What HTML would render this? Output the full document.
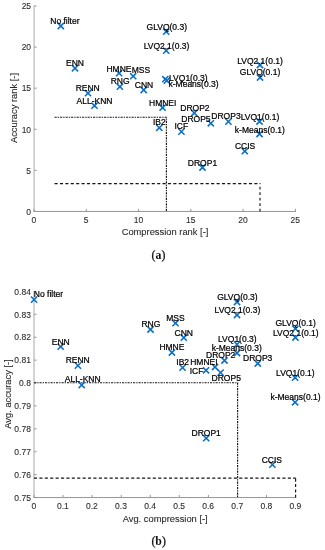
<!DOCTYPE html>
<html><head><meta charset="utf-8"><title>Figure</title>
<style>
html,body{margin:0;padding:0;background:#fff;}
svg{display:block;filter:blur(0.42px);}
text{font-family:"Liberation Sans",Arial,Helvetica,sans-serif;}
.t{font-size:8.5px;fill:#2c2c2c;stroke:#2c2c2c;stroke-width:0.1;}
.d{font-size:8.5px;fill:#000;stroke:#000;stroke-width:0.22;}
.l{font-size:9.35px;fill:#2a2a2a;stroke:#2a2a2a;stroke-width:0.1;}
.c{font-family:"Liberation Serif","Times New Roman",serif;font-size:11.8px;fill:#111;stroke:#111;stroke-width:0.25;}
.cb{font-weight:bold;stroke:none;}
.ax{stroke:#bcbcbc;stroke-width:1.3;fill:none;}
.axx{stroke:#959595;stroke-width:1;fill:none;}
.tk{stroke:#999;stroke-width:1;fill:none;}
.m{stroke:#0a6cc2;stroke-width:1.5;fill:none;stroke-linecap:butt;}
.dd{stroke:#151515;stroke-width:1.15;fill:none;stroke-dasharray:2.2 1.0 1.3 1.0;}
.da{stroke:#151515;stroke-width:1.15;fill:none;stroke-dasharray:3.1 2.3;}
</style></head>
<body>
<svg width="325" height="550" viewBox="0 0 325 550">
<rect x="0" y="0" width="325" height="550" fill="#fff"/>
<g id="plot-a">
<path class="ax" d="M34.10 5.50V211.95"/>
<path class="axx" d="M33.50 211.45H295.90"/>
<path class="tk" d="M34.10 211.45l2.60 0M34.10 211.45l0 -2.60M34.10 170.36l2.60 0M86.36 211.45l0 -2.60M34.10 129.27l2.60 0M138.62 211.45l0 -2.60M34.10 88.18l2.60 0M190.88 211.45l0 -2.60M34.10 47.09l2.60 0M243.14 211.45l0 -2.60M34.10 6.00l2.60 0M295.40 211.45l0 -2.60"/>
<text class="t" x="31.10" y="214.70" text-anchor="end">0</text>
<text class="t" x="33.90" y="222.70" text-anchor="middle">0</text>
<text class="t" x="31.10" y="173.61" text-anchor="end">5</text>
<text class="t" x="86.16" y="222.70" text-anchor="middle">5</text>
<text class="t" x="31.10" y="132.52" text-anchor="end">10</text>
<text class="t" x="138.42" y="222.70" text-anchor="middle">10</text>
<text class="t" x="31.10" y="91.43" text-anchor="end">15</text>
<text class="t" x="190.68" y="222.70" text-anchor="middle">15</text>
<text class="t" x="31.10" y="50.34" text-anchor="end">20</text>
<text class="t" x="242.94" y="222.70" text-anchor="middle">20</text>
<text class="t" x="31.10" y="9.25" text-anchor="end">25</text>
<text class="t" x="295.20" y="222.70" text-anchor="middle">25</text>
<text class="l" x="165.00" y="234.90" text-anchor="middle">Compression rank [-]</text>
<text class="l" text-anchor="middle" transform="translate(17.2 108) rotate(-90)">Accuracy rank [-]</text>
<path class="dd" d="M54.55 117.2H166.4V211.45"/>
<path class="da" d="M54.55 183.6H260.3"/>
<path class="da" style="stroke-dasharray:2.75 2.75" d="M260 211.5V183.4"/>
<path class="m" d="M57.70 22.90L63.90 29.10M57.70 29.10L63.90 22.90"/>
<path class="m" d="M71.90 65.15L78.10 71.35M71.90 71.35L78.10 65.15"/>
<path class="m" d="M116.00 70.10L122.20 76.30M116.00 76.30L122.20 70.10"/>
<path class="m" d="M130.10 73.10L136.30 79.30M130.10 79.30L136.30 73.10"/>
<path class="m" d="M116.80 83.60L123.00 89.80M116.80 89.80L123.00 83.60"/>
<path class="m" d="M84.90 90.10L91.10 96.30M84.90 96.30L91.10 90.10"/>
<path class="m" d="M91.40 102.60L97.60 108.80M91.40 108.80L97.60 102.60"/>
<path class="m" d="M140.60 86.90L146.80 93.10M140.60 93.10L146.80 86.90"/>
<path class="m" d="M163.10 28.60L169.30 34.80M163.10 34.80L169.30 28.60"/>
<path class="m" d="M163.10 47.60L169.30 53.80M163.10 53.80L169.30 47.60"/>
<path class="m" d="M162.20 76.10L168.40 82.30M162.20 82.30L168.40 76.10"/>
<path class="m" d="M163.80 77.50L170.00 83.70M163.80 83.70L170.00 77.50"/>
<path class="m" d="M159.50 104.60L165.70 110.80M159.50 110.80L165.70 104.60"/>
<path class="m" d="M156.20 124.70L162.40 130.90M156.20 130.90L162.40 124.70"/>
<path class="m" d="M178.30 128.50L184.50 134.70M178.30 134.70L184.50 128.50"/>
<path class="m" d="M191.20 109.90L197.40 116.10M191.20 116.10L197.40 109.90"/>
<path class="m" d="M207.70 120.20L213.90 126.40M207.70 126.40L213.90 120.20"/>
<path class="m" d="M225.30 118.50L231.50 124.70M225.30 124.70L231.50 118.50"/>
<path class="m" d="M256.40 118.40L262.60 124.60M256.40 124.60L262.60 118.40"/>
<path class="m" d="M256.40 130.90L262.60 137.10M256.40 137.10L262.60 130.90"/>
<path class="m" d="M256.90 61.90L263.10 68.10M256.90 68.10L263.10 61.90"/>
<path class="m" d="M256.90 74.40L263.10 80.60M256.90 80.60L263.10 74.40"/>
<path class="m" d="M241.70 148.10L247.90 154.30M241.70 154.30L247.90 148.10"/>
<path class="m" d="M199.40 164.40L205.60 170.60M199.40 170.60L205.60 164.40"/>
<text class="d" x="64.90" y="23.70" text-anchor="middle">No filter</text>
<text class="d" x="74.95" y="66.00" text-anchor="middle">ENN</text>
<text class="d" x="119.00" y="71.50" text-anchor="middle">HMNE</text>
<text class="d" x="141.00" y="73.30" text-anchor="middle">MSS</text>
<text class="d" x="120.10" y="84.30" text-anchor="middle">RNG</text>
<text class="d" x="87.70" y="91.00" text-anchor="middle">RENN</text>
<text class="d" x="94.50" y="103.50" text-anchor="middle">ALL-KNN</text>
<text class="d" x="144.00" y="87.80" text-anchor="middle">CNN</text>
<text class="d" x="166.75" y="29.80" text-anchor="middle">GLVQ(0.3)</text>
<text class="d" x="166.50" y="48.50" text-anchor="middle">LVQ2.1(0.3)</text>
<text class="d" x="169.00" y="80.60" text-anchor="start">LVQ1(0.3)</text>
<text class="d" x="168.50" y="86.60" text-anchor="start">k-Means(0.3)</text>
<text class="d" x="162.70" y="105.60" text-anchor="middle">HMNEI</text>
<text class="d" x="159.30" y="125.30" text-anchor="middle">IB2</text>
<text class="d" x="181.30" y="129.30" text-anchor="middle">ICF</text>
<text class="d" x="194.90" y="110.50" text-anchor="middle">DROP2</text>
<text class="d" x="210.60" y="121.80" text-anchor="end">DROP5</text>
<text class="d" x="226.00" y="118.70" text-anchor="middle">DROP3</text>
<text class="d" x="260.00" y="120.30" text-anchor="middle">LVQ1(0.1)</text>
<text class="d" x="259.90" y="132.70" text-anchor="middle">k-Means(0.1)</text>
<text class="d" x="260.00" y="63.50" text-anchor="middle">LVQ2.1(0.1)</text>
<text class="d" x="260.00" y="75.30" text-anchor="middle">GLVQ(0.1)</text>
<text class="d" x="245.10" y="149.00" text-anchor="middle">CCIS</text>
<text class="d" x="202.50" y="165.80" text-anchor="middle">DROP1</text>
<text class="c" x="158.50" y="259.00" text-anchor="middle">(<tspan class="cb">a</tspan>)</text>
</g>
<g id="plot-b">
<path class="ax" d="M34.00 290.90V498.05"/>
<path class="axx" d="M33.40 497.55H296.10"/>
<path class="tk" d="M34.00 497.55l2.60 0M34.00 497.55l0 -2.60M34.00 474.64l2.60 0M63.07 497.55l0 -2.60M34.00 451.74l2.60 0M92.13 497.55l0 -2.60M34.00 428.83l2.60 0M121.20 497.55l0 -2.60M34.00 405.93l2.60 0M150.27 497.55l0 -2.60M34.00 383.02l2.60 0M179.33 497.55l0 -2.60M34.00 360.12l2.60 0M208.40 497.55l0 -2.60M34.00 337.21l2.60 0M237.47 497.55l0 -2.60M34.00 314.31l2.60 0M266.53 497.55l0 -2.60M34.00 291.40l2.60 0M295.60 497.55l0 -2.60"/>
<text class="t" x="30.90" y="500.75" text-anchor="end">0.75</text>
<text class="t" x="33.80" y="509.00" text-anchor="middle">0</text>
<text class="t" x="30.90" y="477.84" text-anchor="end">0.76</text>
<text class="t" x="62.87" y="509.00" text-anchor="middle">0.1</text>
<text class="t" x="30.90" y="454.94" text-anchor="end">0.77</text>
<text class="t" x="91.93" y="509.00" text-anchor="middle">0.2</text>
<text class="t" x="30.90" y="432.03" text-anchor="end">0.78</text>
<text class="t" x="121.00" y="509.00" text-anchor="middle">0.3</text>
<text class="t" x="30.90" y="409.13" text-anchor="end">0.79</text>
<text class="t" x="150.07" y="509.00" text-anchor="middle">0.4</text>
<text class="t" x="30.90" y="386.22" text-anchor="end">0.8</text>
<text class="t" x="179.13" y="509.00" text-anchor="middle">0.5</text>
<text class="t" x="30.90" y="363.32" text-anchor="end">0.81</text>
<text class="t" x="208.20" y="509.00" text-anchor="middle">0.6</text>
<text class="t" x="30.90" y="340.41" text-anchor="end">0.82</text>
<text class="t" x="237.27" y="509.00" text-anchor="middle">0.7</text>
<text class="t" x="30.90" y="317.51" text-anchor="end">0.83</text>
<text class="t" x="266.33" y="509.00" text-anchor="middle">0.8</text>
<text class="t" x="30.90" y="294.60" text-anchor="end">0.84</text>
<text class="t" x="295.40" y="509.00" text-anchor="middle">0.9</text>
<text class="l" x="165.20" y="521.60" text-anchor="middle">Avg. compression [-]</text>
<text class="l" text-anchor="middle" transform="translate(10.9 394) rotate(-90)">Avg. accuracy [-]</text>
<path class="dd" d="M34.00 382.7H237.6V497.55"/>
<path class="da" d="M34.00 478.1H295.8"/>
<path class="da" d="M295.6 478.6V497.55"/>
<path class="m" d="M31.00 296.50L37.20 302.70M31.00 302.70L37.20 296.50"/>
<path class="m" d="M57.60 343.60L63.80 349.80M57.60 349.80L63.80 343.60"/>
<path class="m" d="M74.80 362.50L81.00 368.70M74.80 368.70L81.00 362.50"/>
<path class="m" d="M78.60 381.90L84.80 388.10M78.60 388.10L84.80 381.90"/>
<path class="m" d="M147.40 326.40L153.60 332.60M147.40 332.60L153.60 326.40"/>
<path class="m" d="M172.40 320.10L178.60 326.30M172.40 326.30L178.60 320.10"/>
<path class="m" d="M180.70 334.60L186.90 340.80M180.70 340.80L186.90 334.60"/>
<path class="m" d="M168.80 349.40L175.00 355.60M168.80 355.60L175.00 349.40"/>
<path class="m" d="M179.50 364.50L185.70 370.70M179.50 370.70L185.70 364.50"/>
<path class="m" d="M211.90 363.90L218.10 370.10M211.90 370.10L218.10 363.90"/>
<path class="m" d="M202.90 367.20L209.10 373.40M202.90 373.40L209.10 367.20"/>
<path class="m" d="M217.50 369.50L223.70 375.70M217.50 375.70L223.70 369.50"/>
<path class="m" d="M221.40 357.40L227.60 363.60M221.40 363.60L227.60 357.40"/>
<path class="m" d="M233.90 341.30L240.10 347.50M233.90 347.50L240.10 341.30"/>
<path class="m" d="M233.90 349.90L240.10 356.10M233.90 356.10L240.10 349.90"/>
<path class="m" d="M233.90 298.90L240.10 305.10M233.90 305.10L240.10 298.90"/>
<path class="m" d="M233.90 311.90L240.10 318.10M233.90 318.10L240.10 311.90"/>
<path class="m" d="M254.70 360.40L260.90 366.60M254.70 366.60L260.90 360.40"/>
<path class="m" d="M292.30 325.60L298.50 331.80M292.30 331.80L298.50 325.60"/>
<path class="m" d="M292.30 334.40L298.50 340.60M292.30 340.60L298.50 334.40"/>
<path class="m" d="M292.00 374.60L298.20 380.80M292.00 380.80L298.20 374.60"/>
<path class="m" d="M292.00 399.20L298.20 405.40M292.00 405.40L298.20 399.20"/>
<path class="m" d="M203.10 435.10L209.30 441.30M203.10 441.30L209.30 435.10"/>
<path class="m" d="M269.30 461.50L275.50 467.70M269.30 467.70L275.50 461.50"/>
<text class="d" x="33.80" y="297.30" text-anchor="start">No filter</text>
<text class="d" x="60.70" y="344.70" text-anchor="middle">ENN</text>
<text class="d" x="77.70" y="363.40" text-anchor="middle">RENN</text>
<text class="d" x="82.70" y="382.30" text-anchor="middle">ALL-KNN</text>
<text class="d" x="150.90" y="327.30" text-anchor="middle">RNG</text>
<text class="d" x="175.50" y="321.00" text-anchor="middle">MSS</text>
<text class="d" x="183.80" y="335.80" text-anchor="middle">CNN</text>
<text class="d" x="171.90" y="350.30" text-anchor="middle">HMNE</text>
<text class="d" x="182.70" y="365.30" text-anchor="middle">IB2</text>
<text class="d" x="217.60" y="364.80" text-anchor="end">HMNEI</text>
<text class="d" x="203.40" y="373.50" text-anchor="end">ICF</text>
<text class="d" x="211.60" y="381.30" text-anchor="start">DROP5</text>
<text class="d" x="206.00" y="358.30" text-anchor="start">DROP2</text>
<text class="d" x="237.30" y="342.30" text-anchor="middle">LVQ1(0.3)</text>
<text class="d" x="236.70" y="351.30" text-anchor="middle">k-Means(0.3)</text>
<text class="d" x="237.40" y="299.80" text-anchor="middle">GLVQ(0.3)</text>
<text class="d" x="237.40" y="312.80" text-anchor="middle">LVQ2.1(0.3)</text>
<text class="d" x="257.70" y="361.30" text-anchor="middle">DROP3</text>
<text class="d" x="295.70" y="326.00" text-anchor="middle">GLVQ(0.1)</text>
<text class="d" x="295.80" y="336.00" text-anchor="middle">LVQ2.1(0.1)</text>
<text class="d" x="295.40" y="375.80" text-anchor="middle">LVQ1(0.1)</text>
<text class="d" x="295.50" y="399.90" text-anchor="middle">k-Means(0.1)</text>
<text class="d" x="206.20" y="435.80" text-anchor="middle">DROP1</text>
<text class="d" x="271.80" y="462.70" text-anchor="middle">CCIS</text>
<text class="c" x="158.60" y="544.60" text-anchor="middle">(<tspan class="cb">b</tspan>)</text>
</g>
</svg>
</body></html>
